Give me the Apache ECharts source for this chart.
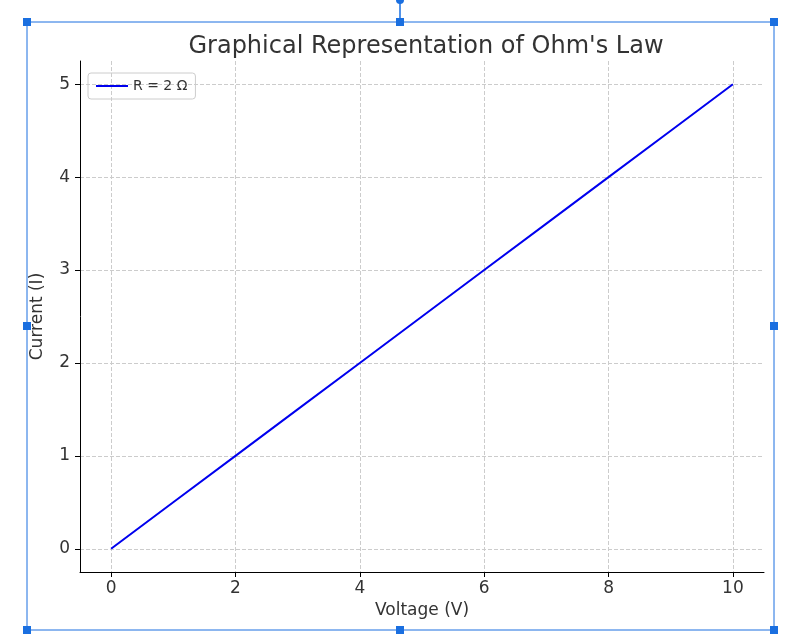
<!DOCTYPE html>
<html><head><meta charset="utf-8">
<script src="https://cdn.jsdelivr.net/npm/echarts@6/dist/echarts.min.js"></script>
<style>html,body{margin:0;padding:0;background:#fff}#c{width:802px;height:640px}</style>
</head><body><div id="c"></div>
<script>
const voltage = [0,1,2,3,4,5,6,7,8,9,10];
const current = [0,0.5,1,1.5,2,2.5,3,3.5,4,4.5,5];
const xTicks = [0,2,4,6,8,10];
const yTicks = [0,1,2,3,4,5];
const seriesName = 'R = 2 Ω';

const chart = echarts.init(document.getElementById('c'));
const blue = '#1a6fe0';
const handles = [[27,22],[400,22],[774,22],[27,326],[774,326],[27,630],[400,630],[774,630]];
const graphics = [{type:'rect',shape:{x:27,y:22,width:747,height:608},style:{fill:'none',stroke:blue,lineWidth:1},z:100},
 {type:'line',shape:{x1:400,y1:3,x2:400,y2:22},style:{stroke:blue,lineWidth:1.5},z:100},
 {type:'circle',shape:{cx:400,cy:0,r:4},style:{fill:blue},z:100}];
handles.forEach(h=>graphics.push({type:'rect',shape:{x:h[0]-4,y:h[1]-4,width:8,height:8},style:{fill:blue},z:101}));
const tickStyle = {show:true,length:5,lineStyle:{color:'#000'}};
chart.setOption({
  animation:false,
  title:{text:"Graphical Representation of Ohm's Law",left:421,textAlign:'center',top:30,textStyle:{fontFamily:'DejaVu Sans',fontSize:24,fontWeight:'normal',color:'#333'}},
  legend:{left:88,top:73,orient:'vertical',padding:[6,8],itemWidth:32,itemHeight:2,itemGap:8,borderColor:'#ccc',borderWidth:1,borderRadius:3,
    textStyle:{fontFamily:'DejaVu Sans',fontSize:14,color:'#333'},data:[{name:seriesName,icon:'rect'}]},
  grid:{left:80,right:38,top:61,bottom:68},
  xAxis:{type:'value',min:-0.5,max:10.5,name:'Voltage (V)',nameLocation:'middle',nameGap:30,
    nameTextStyle:{fontFamily:'DejaVu Sans',fontSize:17,color:'#333'},
    axisLine:{onZero:false,lineStyle:{color:'#000'}},
    axisTick:Object.assign({customValues:xTicks},tickStyle),
    axisLabel:{customValues:xTicks,fontFamily:'DejaVu Sans',fontSize:17,color:'#333',margin:8},
    splitLine:{show:true,lineStyle:{type:'dashed',color:'#ccc'}}},
  yAxis:{type:'value',min:-0.25,max:5.25,name:'Current (I)',nameLocation:'middle',nameGap:34,
    nameTextStyle:{fontFamily:'DejaVu Sans',fontSize:17,color:'#333'},
    axisLine:{show:true,onZero:false,lineStyle:{color:'#000'}},
    axisTick:Object.assign({customValues:yTicks},tickStyle),
    axisLabel:{customValues:yTicks,fontFamily:'DejaVu Sans',fontSize:17,color:'#333',margin:10},
    splitLine:{show:true,lineStyle:{type:'dashed',color:'#ccc'}}},
  series:[{name:seriesName,type:'line',data:voltage.map((v,i)=>[v,current[i]]),showSymbol:false,
    lineStyle:{color:'#0000ee',width:2},itemStyle:{color:'#0000ee'}}],
  graphic:graphics
});
</script></body></html>
